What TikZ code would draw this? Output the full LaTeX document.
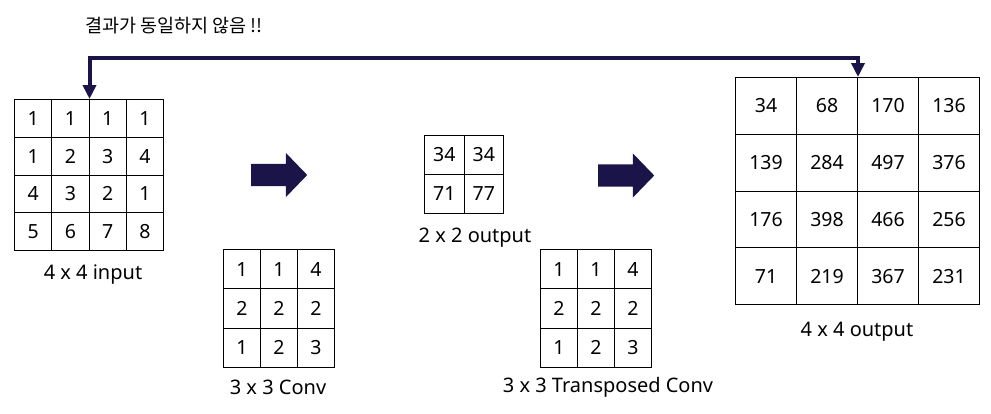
\documentclass[tikz,border=0pt]{standalone}
\usepackage{fontspec}
\setmainfont{Noto Sans}
\newfontfamily\krfont{Noto Sans CJK KR}
\usetikzlibrary{arrows.meta,positioning,shapes.arrows}
\definecolor{navy}{RGB}{27,20,72}

\begin{document}
\begin{tikzpicture}[x=1pt, y=-1pt,
    cell/.style={
      draw, line width=1pt, anchor=north west, inner sep=0pt,
      font=\fontsize{19.5}{22}\selectfont
    },
    caption/.style={font=\fontsize{20}{23}\selectfont, inner sep=0pt},
    bigarr/.style={
      single arrow, fill=navy, draw=none, inner sep=11pt,
      minimum width=44pt, minimum height=56pt, anchor=tail,
      single arrow head extend=11pt, single arrow tip angle=92
    },
    link/.style={{Triangle[width=13pt,length=14pt]}-{Triangle[width=13pt,length=14pt]},
      line width=4pt, draw=navy}
  ]
    \useasboundingbox (0,0) rectangle (991,413);

    % 4 x 4 input
    \foreach \row/\vals in {1/{1,1,1,1},2/{1,2,3,4},3/{4,3,2,1},4/{5,6,7,8}}
      \foreach \v [count=\col] in \vals
        \node[cell, minimum width=37.25pt, minimum height=37.75pt]
          (in-\row-\col) at ({14+(\col-1)*37.25},{99+(\row-1)*37.75}) {\v};
    \node[caption] (incap) at (93,275) {4 x 4 input};

    % 3 x 3 Conv
    \foreach \row/\vals in {1/{1,1,4},2/{2,2,2},3/{1,2,3}}
      \foreach \v [count=\col] in \vals
        \node[cell, minimum width=37pt, minimum height=39.33pt]
          (conv-\row-\col) at ({223+(\col-1)*37},{249+(\row-1)*39.33}) {\v};
    \node[caption] (convcap) at (278,387) {3 x 3 Conv};

    \node[bigarr] (convarr) at (251,175) {};

    % 2 x 2 output
    \foreach \row/\vals in {1/{34,34},2/{71,77}}
      \foreach \v [count=\col] in \vals
        \node[cell, minimum width=39.5pt, minimum height=39pt]
          (mid-\row-\col) at ({424+(\col-1)*39.5},{135+(\row-1)*39}) {\v};
    \node[caption] (midcap) at (475,238) {2 x 2 output};

    % 3 x 3 Transposed Conv
    \foreach \row/\vals in {1/{1,1,4},2/{2,2,2},3/{1,2,3}}
      \foreach \v [count=\col] in \vals
        \node[cell, minimum width=37pt, minimum height=39.33pt]
          (tconv-\row-\col) at ({540+(\col-1)*37},{249+(\row-1)*39.33}) {\v};
    \node[caption] (tconvcap) at (608,387) {3 x 3 Transposed Conv};

    \node[bigarr] (tconvarr) at (598,175.5) {};

    % 4 x 4 output
    \foreach \row/\vals in {1/{34,68,170,136},2/{139,284,497,376},
                            3/{176,398,466,256},4/{71,219,367,231}}
      \foreach \v [count=\col] in \vals
        \node[cell, minimum width=61pt, minimum height=56.75pt]
          (out-\row-\col) at ({735+(\col-1)*61},{77+(\row-1)*56.75}) {\v};
    \node[caption] (outcap) at (857,332) {4 x 4 output};

    % comparison
    \coordinate (bend) at (500,58);
    \draw[link] (out-1-2.north east) |- (bend) -| (in-1-2.north east);
    \node[caption, font=\krfont\fontsize{18.5}{22}\selectfont] (note) at (174,26)
      {결과가 동일하지 않음 !!};
  \end{tikzpicture}
\end{document}
